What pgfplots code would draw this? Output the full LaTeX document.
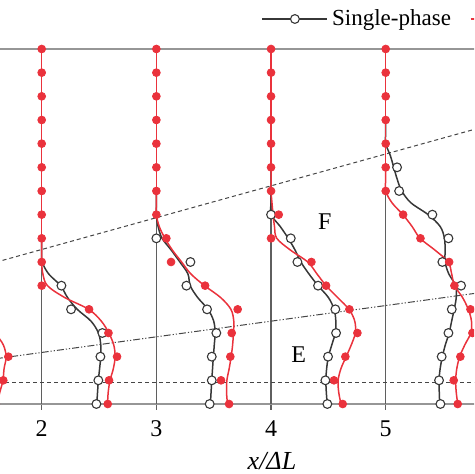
\documentclass[border=0pt]{standalone}
\usepackage{fontspec}
\setmainfont{Liberation Serif}
\usepackage{pgfplots}
\pgfplotsset{compat=1.18}

\definecolor{tpred}{RGB}{234,50,60}
\definecolor{spgray}{RGB}{55,55,55}
\definecolor{walls}{RGB}{150,150,150}
\definecolor{stat}{RGB}{95,95,95}
\definecolor{guide}{RGB}{70,70,70}

\pgfplotsset{
  spline/.style={smooth, tension=0.55, line width=0.75pt, forget plot},
  spcurve/.style={spline, spgray},
  tpcurve/.style={spline, tpred},
  spmarks/.style={only marks, mark=*, mark size=2.2pt,
    mark options={fill=white, draw=spgray, line width=0.55pt}, forget plot},
  tpmarks/.style={only marks, mark=*, mark size=1.95pt,
    mark options={fill=tpred, draw=tpred}, forget plot},
}

\begin{document}
\begin{tikzpicture}
\useasboundingbox (0pt,0pt) rectangle (237pt,237pt);
\clip (0pt,0pt) rectangle (237pt,237pt);
\begin{axis}[
  at={(0pt,35pt)}, anchor=south west,
  scale only axis, width=237pt, height=177.5pt,
  xmin=1.6363, xmax=5.770, ymin=0, ymax=15,
  clip=false,
  axis line style={draw=none},
  xtick={2,3,4,5}, ytick=\empty,
  xtick pos=left, tick align=outside, major tick length=3pt,
  xtick style={draw=stat, line width=0.7pt},
  xticklabel style={font=\fontsize{12}{14}\selectfont, yshift=-2pt},
  /pgf/number format/assume math mode=true,
  legend columns=2,
  legend style={draw=none, fill=none, inner sep=0pt, outer sep=0pt,
    at={(axis description cs:0.552,1.0845)}, anchor=west,
    font=\fontsize{11.5}{13}\selectfont,
    /tikz/every even column/.style={column sep=7.5pt}},
  legend image code/.code={\draw[mark repeat=2,mark phase=2,#1]
    plot coordinates {(0pt,0pt) (16.25pt,0pt) (32.5pt,0pt)};},
]
\addlegendimage{spgray, line width=0.75pt, mark=*, mark size=2.2pt,
  mark options={fill=white, draw=spgray, line width=0.55pt}}
\addlegendentry{Single-phase}
\addlegendimage{tpred, line width=0.75pt, mark=*, mark size=1.95pt,
  mark options={fill=tpred, draw=tpred}}
\addlegendentry{Two-phase}

% channel walls
\addplot[walls, line width=1pt, forget plot] coordinates {(1.5,15) (6,15)};
\addplot[walls, line width=1pt, forget plot] coordinates {(1.5,0) (6,0)};

% measuring stations
\addplot[stat, line width=0.7pt, forget plot] coordinates {(2,0) (2,15)};
\addplot[stat, line width=0.7pt, forget plot] coordinates {(3,0) (3,15)};
\addplot[stat, line width=0.7pt, forget plot] coordinates {(4,0) (4,15)};
\addplot[stat, line width=0.7pt, forget plot] coordinates {(5,0) (5,15)};

% region boundaries
\addplot[guide, line width=0.5pt, dash pattern=on 2pt off 1.5pt, forget plot]
  coordinates {(1.6,5.99) (5.8,11.64)};
\addplot[guide, line width=0.5pt,
  dash pattern=on 3.5pt off 1pt on 0.6pt off 1pt on 0.6pt off 1pt, forget plot]
  coordinates {(1.6,1.913) (5.8,4.689)};
\addplot[guide, line width=0.5pt, dash pattern=on 2pt off 1.5pt, forget plot]
  coordinates {(1.5,0.91) (6,0.91)};

% single-phase profiles
\addplot[spcurve] coordinates {(2,7)(2,6.5)(2.005,6)(2.06,5.5)(2.165,5)(2.225,4.5)(2.31,4)(2.43,3.5)(2.495,3)(2.515,2.5)(2.515,2)(2.505,1.5)(2.494,1)(2.487,0.5)(2.48,0)};
\addplot[spcurve] coordinates {(3,9)(3,8.5)(3,8)(3.015,7.5)(3.05,7)(3.13,6.5)(3.205,6)(3.275,5.5)(3.295,5)(3.36,4.5)(3.45,4)(3.50,3.5)(3.512,3)(3.505,2.5)(3.497,2)(3.49,1.5)(3.483,1)(3.477,0.5)(3.471,0)};
\addplot[spcurve] coordinates {(4,9)(4,8.5)(4,8)(4.08,7.5)(4.15,7)(4.21,6.5)(4.26,6)(4.33,5.5)(4.41,5)(4.50,4.5)(4.55,4)(4.565,3.5)(4.56,3)(4.53,2.5)(4.50,2)(4.485,1.5)(4.478,1)(4.482,0.5)(4.49,0)};
\addplot[spcurve] coordinates {(5,12)(5,11.5)(5,11)(5.04,10.5)(5.07,10)(5.10,9.5)(5.14,9)(5.22,8.5)(5.37,8)(5.475,7.5)(5.512,7)(5.518,6.5)(5.518,6)(5.55,5.5)(5.61,5)(5.615,4.5)(5.597,4)(5.575,3.5)(5.553,3)(5.52,2.5)(5.494,2)(5.475,1.5)(5.465,1)(5.467,0.5)(5.471,0)};

\addplot[spmarks] coordinates {(2.172,5)(2.256,4)(2.529,3)(2.512,2)(2.494,1)(2.477,0)};
\addplot[spmarks] coordinates {(3,7)(3.297,6)(3.262,5)(3.442,4)(3.523,3)(3.483,2)(3.483,1)(3.465,0)};
\addplot[spmarks] coordinates {(4,8)(4.172,7)(4.23,6)(4.41,5)(4.561,4)(4.567,3)(4.497,2)(4.474,1)(4.491,0)};
\addplot[spmarks] coordinates {(5.099,10)(5.117,9)(5.407,8)(5.547,7)(5.494,6)(5.657,5)(5.576,4)(5.547,3)(5.488,2)(5.465,1)(5.477,0)};

% two-phase profiles
\addplot[tpred, line width=0.75pt, forget plot] coordinates {(2,15) (2,7)};
\addplot[tpred, line width=0.75pt, forget plot] coordinates {(3,15) (3,9)};
\addplot[tpred, line width=0.75pt, forget plot] coordinates {(4,15) (4,10)};
\addplot[tpred, line width=0.75pt, forget plot] coordinates {(5,15) (5,10)};

\addplot[tpcurve] coordinates {(1.58,3.5)(1.60,3)(1.665,2.5)(1.69,2)(1.672,1.5)(1.662,1)(1.635,0.5)(1.61,0)};
\addplot[tpcurve] coordinates {(2,7)(2,6.5)(2,6)(2.01,5.5)(2.05,5)(2.2,4.5)(2.41,4)(2.52,3.5)(2.585,3)(2.628,2.5)(2.64,2)(2.625,1.5)(2.596,1)(2.58,0.5)(2.574,0)};
\addplot[tpcurve] coordinates {(3,9)(3,8.5)(3,8)(3.025,7.5)(3.075,7)(3.14,6.5)(3.22,6)(3.30,5.5)(3.42,5)(3.56,4.5)(3.65,4)(3.675,3.5)(3.672,3)(3.665,2.5)(3.652,2)(3.635,1.5)(3.615,1)(3.612,0.5)(3.62,0)};
\addplot[tpcurve] coordinates {(4,10)(4,9.5)(4,9)(4.008,8.5)(4.018,8)(4.03,7.5)(4.05,7)(4.17,6.5)(4.32,6)(4.40,5.5)(4.48,5)(4.58,4.5)(4.68,4)(4.73,3.5)(4.735,3)(4.70,2.5)(4.655,2)(4.61,1.5)(4.585,1)(4.59,0.5)(4.61,0)};
\addplot[tpcurve] coordinates {(5,10)(5,9.5)(5,9)(5.055,8.5)(5.15,8)(5.23,7.5)(5.30,7)(5.43,6.5)(5.545,6)(5.575,5.5)(5.60,5)(5.67,4.5)(5.72,4)(5.748,3.5)(5.742,3)(5.69,2.5)(5.645,2)(5.62,1.5)(5.61,1)(5.615,0.5)(5.628,0)};

\addplot[tpmarks] coordinates {(1.58,3)(1.709,2)(1.665,1)(1.60,0)};
\addplot[tpmarks] coordinates {(2,15)(2,14)(2,13)(2,12)(2,11)(2,10)(2,9)(2,8)(2,7)(2,6)(2,5)(2.413,4)(2.582,3)(2.657,2)(2.587,1)(2.576,0)};
\addplot[tpmarks] coordinates {(3,15)(3,14)(3,13)(3,12)(3,11)(3,10)(3,9)(3,8)(3.087,7)(3.128,6)(3.425,5)(3.709,4)(3.657,3)(3.645,2)(3.564,1)(3.634,0)};
\addplot[tpmarks] coordinates {(4,15)(4,14)(4,13)(4,12)(4,11)(4,10)(4,9)(4.067,8)(4,7)(4.352,6)(4.48,5)(4.683,4)(4.753,3)(4.648,2)(4.549,1)(4.625,0)};
\addplot[tpmarks] coordinates {(5,15)(5,14)(5,13)(5,12)(5,11)(5,10)(5,9)(5.152,8)(5.303,7)(5.553,6)(5.599,5)(5.739,4)(5.756,3)(5.651,2)(5.593,1)(5.628,0)};

% region labels and axis title
\node[font=\fontsize{12}{14}\selectfont] at (axis cs:4.468,7.70) {F};
\node[font=\fontsize{12}{14}\selectfont] at (axis cs:4.241,2.07) {E};
\node[font=\fontsize{13}{15}\selectfont] at (axis cs:4.008,-2.40) {\textit{x/ΔL}};
\end{axis}
\end{tikzpicture}
\end{document}
